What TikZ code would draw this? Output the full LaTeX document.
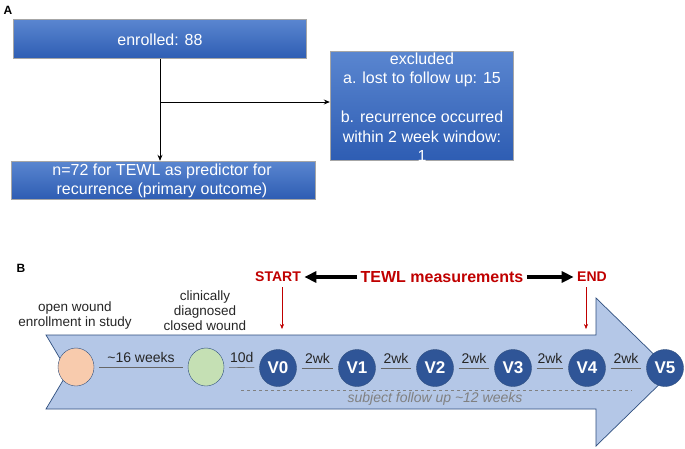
\documentclass[tikz,border=0pt]{standalone}
\usepackage{fontspec}
\setmainfont{Liberation Sans}
\usetikzlibrary{arrows.meta,shapes.geometric}
\definecolor{boxtop}{HTML}{5A86D0}
\definecolor{boxbot}{HTML}{2E5DB3}
\definecolor{arrfill}{HTML}{B4C7E7}
\definecolor{arredge}{HTML}{2F4F7F}
\definecolor{vblue}{HTML}{2F5597}
\definecolor{redc}{HTML}{C00000}
\definecolor{orangec}{HTML}{F8CBAD}
\definecolor{greenc}{HTML}{C5E0B4}
\begin{document}
\begin{tikzpicture}[x=1pt,y=-1pt,
  box/.style={draw=gray!70,top color=boxtop,bottom color=boxbot,inner sep=0pt},
  btxt/.style={text=white,font=\fontsize{16}{19.5}\selectfont,align=center,inner sep=0pt},
  conn/.style={-{Stealth[length=6pt,width=5pt]},line width=0.8pt},
  vc/.style={circle,draw=arredge,fill=vblue,minimum size=37pt,inner sep=0pt,text=white,font=\fontsize{17}{17}\selectfont\bfseries},
  wc/.style={ellipse,draw=arredge,minimum width=36pt,minimum height=38pt,inner sep=0pt},
  lab/.style={font=\fontsize{14}{14}\selectfont,text=black!85},
  tl/.style={draw=black!60,line width=0.6pt,shorten >=5pt,shorten <=5pt},
  rtxt/.style={text=redc,font=\fontsize{14}{14}\selectfont\bfseries},
  gtxt/.style={font=\fontsize{13.5}{15}\selectfont,align=center,text=black!85},
]
\useasboundingbox (0,0) rectangle (685,448);
\fill[white] (0,0) rectangle (685,448);
% Part A
\node[font=\fontsize{12}{12}\selectfont\bfseries] (A) at (8,10) {A};
\node[box,minimum width=293pt,minimum height=39pt] (enr) at (160,39) {};
\node[btxt] (et0) at (160,40) {enrolled: 88};
\node[box,minimum width=183pt,minimum height=109pt] (exc) at (421.5,105.5) {};
\node[box,minimum width=304pt,minimum height=38pt] (n72) at (163,180) {};
\node[btxt] (nt) at (162,181) {n=72 for TEWL as predictor for\\recurrence (primary outcome)};
\node[btxt] (et) at (422,107) {excluded\\a. lost to follow up: 15\\[19.5pt]b. recurrence occurred\\within 2 week window:\\1};
\coordinate (j) at (160,102);
\draw[conn] (enr.south -| j) -- (n72.north -| j);
\draw[conn] (j) -- (exc.west |- j);
% Part B
\node[font=\fontsize{12}{12}\selectfont\bfseries] (B) at (21,268) {B};
\draw[draw=arredge,fill=arrfill,line width=0.7pt] (46,335) -- (596,335) -- (596,298) -- (672,372) -- (596,446) -- (596,409) -- (46,409) -- (68,372) -- cycle;
\draw[gray,dashed,line width=1pt] (241,390) -- (632,390);
\node[font=\fontsize{14}{14}\selectfont\itshape,text=gray] (fu) at (435,399) {subject follow up \textasciitilde12 weeks};
\node[wc,fill=orangec] (o) at (76,367) {};
\node[wc,fill=greenc] (g) at (206,367) {};
\node[vc] (v0) at (278,368) {V0};
\node[vc] (v1) at (357,368) {V1};
\node[vc] (v2) at (435,368) {V2};
\node[vc] (v3) at (513,368) {V3};
\node[vc] (v4) at (587,368) {V4};
\node[vc] (v5) at (665,368) {V5};
\draw[tl] (o) -- node[lab,above=1pt] {\textasciitilde16 weeks} (g);
\draw[tl] (g) -- node[lab,above=1pt] {10d} (v0);
\draw[tl] (v0) -- node[lab,above=1pt] {2wk} (v1);
\draw[tl] (v1) -- node[lab,above=1pt] {2wk} (v2);
\draw[tl] (v2) -- node[lab,above=1pt] {2wk} (v3);
\draw[tl] (v3) -- node[lab,above=1pt] {2wk} (v4);
\draw[tl] (v4) -- node[lab,above=1pt] {2wk} (v5);
\node[gtxt] (ot) at (75,316) {open wound\\enrollment in study};
\node[gtxt] (gt) at (205,311) {clinically\\diagnosed\\closed wound};
\node[rtxt] (st) at (278,277) {START};
\node[rtxt] (en) at (592,277) {END};
\node[text=redc,font=\fontsize{16}{16}\selectfont\bfseries] (tw) at (442,277) {TEWL measurements};
\draw[-{Triangle[length=12pt,width=11pt]},line width=3.5pt] (tw.west) -- (st.east);
\draw[-{Triangle[length=12pt,width=11pt]},line width=3.5pt] (tw.east) -- (en.west);
\draw[redc,-{Stealth[length=5pt,width=4pt]},line width=0.5pt] (282,287) -- (282,329);
\draw[redc,-{Stealth[length=5pt,width=4pt]},line width=0.5pt] (586,287) -- (586,329);
\end{tikzpicture}
\end{document}
